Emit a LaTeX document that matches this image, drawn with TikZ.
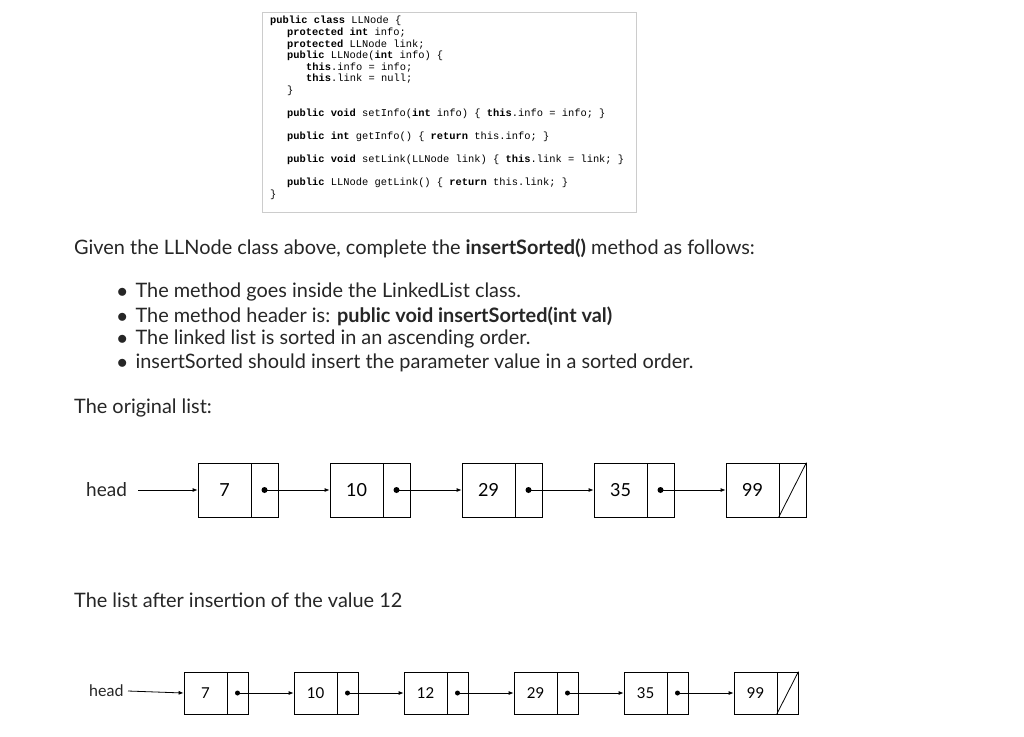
\documentclass[tikz,border=0pt]{standalone}
\usepackage{fontspec}
\setmainfont{Lato}
\newfontfamily\codefont{Liberation Mono}
\begin{document}
\begin{tikzpicture}[x=1pt,y=-1pt,
  txt/.style={anchor=west,inner sep=0pt,font=\fontsize{19.9}{22}\selectfont,text=black!85},
  cl/.style={anchor=west,inner sep=0pt,font=\codefont\fontsize{10.4}{11}\selectfont},
  cell/.style={draw,thick,inner sep=0pt},
  arr/.style={-{Latex[length=5pt,width=4pt]},thick}]
\useasboundingbox[fill=white] (0,0) rectangle (1024,736);
\usetikzlibrary{arrows.meta}
\draw[black!20] (262,12) rectangle (636,212);
\node[cl] (c1) at (270,21) {\textbf{public class} LLNode \{};
\node[cl] (c2) at (287,33) {\textbf{protected int} info;};
\node[cl] (c3) at (287,45) {\textbf{protected} LLNode link;};
\node[cl] (c4) at (287,56) {\textbf{public} LLNode(\textbf{int} info) \{};
\node[cl] (c5) at (306,68) {\textbf{this}.info = info;};
\node[cl] (c6) at (306,79) {\textbf{this}.link = null;};
\node[cl] (c7) at (287,91) {\}};
\node[cl] (c8) at (287,114) {\textbf{public void} setInfo(\textbf{int} info) \{ \textbf{this}.info = info; \}};
\node[cl] (c9) at (287,137) {\textbf{public int} getInfo() \{ \textbf{return} this.info; \}};
\node[cl] (c10) at (287,160) {\textbf{public void} setLink(LLNode link) \{ \textbf{this}.link = link; \}};
\node[cl] (c11) at (287,183) {\textbf{public} LLNode getLink() \{ \textbf{return} this.link; \}};
\node[cl] (c12) at (270,195) {\}};
\node[txt] (t1) at (74,248) {Given the LLNode class above, complete the \textbf{insertSorted()} method as follows:};
\node[txt] (b1) at (117,292) {$\bullet$\hspace{8pt}The method goes inside the LinkedList class.};
\node[txt] (b2) at (117,316) {$\bullet$\hspace{8pt}The method header is: \textbf{public void insertSorted(int val)}};
\node[txt] (b3) at (117,339) {$\bullet$\hspace{8pt}The linked list is sorted in an ascending order.};
\node[txt] (b4) at (117,363) {$\bullet$\hspace{8pt}insertSorted should insert the parameter value in a sorted order.};
\node[txt] (t2) at (74,408) {The original list:};
\node[txt] (t3) at (74,600) {The list after insertion of the value 12};
% list 1
\node[txt,font=\fontsize{19}{21}\selectfont] (h1) at (86,490) {head};
\coordinate (h1e) at (138,490);
\foreach \v [count=\i] in {7,10,29,35,99}{
  \pgfmathsetmacro\xx{198+132*(\i-1)}
  \node[cell,minimum width=53pt,minimum height=54pt,font=\fontsize{18}{20}\selectfont] (a\i) at (\xx+26.5,490) {\v};
  \node[cell,minimum width=27pt,minimum height=54pt] (ap\i) at (\xx+66.5,490) {};
}
\draw[arr] (h1e) -- (a1.west);
\foreach \i/\j in {1/2,2/3,3/4,4/5}{
  \fill (ap\i.center) circle (3pt);
  \draw[arr] (ap\i.center) -- (a\j.west);
}
\draw[thick] (ap5.south west) -- (ap5.north east);
% list 2
\node[txt,font=\fontsize{16}{18}\selectfont] (h2) at (89,691) {head};
\coordinate (h2e) at (128,691);
\foreach \v [count=\i] in {7,10,12,29,35,99}{
  \pgfmathsetmacro\xx{184+110*(\i-1)}
  \node[cell,minimum width=43pt,minimum height=42pt,font=\fontsize{15}{17}\selectfont] (b\i) at (\xx+21.5,693) {\v};
  \node[cell,minimum width=21pt,minimum height=42pt] (bp\i) at (\xx+53.5,693) {};
}
\draw[arr] (h2e) -- (b1.west);
\foreach \i/\j in {1/2,2/3,3/4,4/5,5/6}{
  \fill (bp\i.center) circle (2.5pt);
  \draw[arr] (bp\i.center) -- (b\j.west);
}
\draw[thick] (bp6.south west) -- (bp6.north east);
\end{tikzpicture}
\end{document}
